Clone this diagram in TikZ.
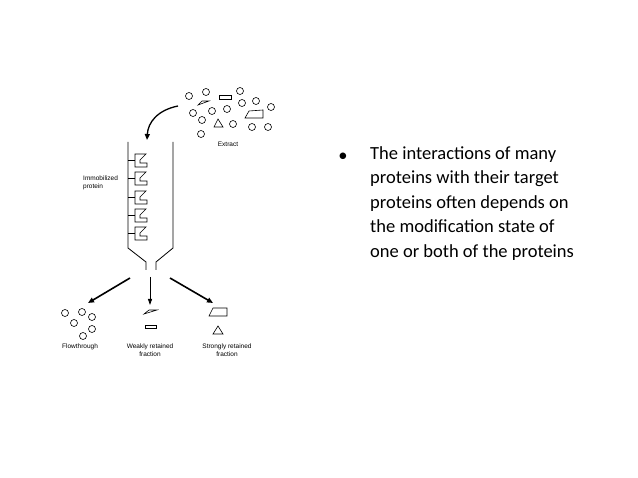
\documentclass[tikz,border=0pt]{standalone}
\usepackage{fontspec}
\setmainfont{Liberation Sans}
\newfontfamily\calib{Carlito}
\usetikzlibrary{arrows.meta}
\begin{document}
\begin{tikzpicture}[x=1pt,y=-1pt,
  part/.style={draw,line width=0.6pt},
  circ/.style={part,circle,inner sep=0pt,minimum size=7pt},
  lbl/.style={font=\fontsize{6.5}{7.5}\selectfont,inner sep=0pt},
  big/.style={-{Triangle[length=6pt,width=5pt]},line width=1.6pt},
  bul/.style={font=\calib\fontsize{18.5}{24.5}\selectfont,anchor=north west,inner sep=0pt,align=left}]
\useasboundingbox (0,0) rectangle (638,478);
% column
\draw[line width=0.8pt] (128,142) -- (128,248) -- (146,262) -- (146,270);
\draw[line width=0.8pt] (173,142) -- (173,248) -- (156,262) -- (156,270);
% ligands
\foreach \y in {160,178,197,215,233}{
  \draw[line width=0.7pt] (128,\y) -- (135,\y);
  \draw[line width=0.7pt] (135,\y-6) -- (146,\y-6) -- (140,\y) -- (140,\y+3) -- (147,\y+3) -- (147,\y+7) -- (135,\y+7) -- cycle;
}
\node[lbl,align=left,anchor=west] (imm) at (83,183) {Immobilized\\protein};
% extract
\foreach \p [count=\i] in {(189,96),(206,92),(240,91),(193,113),(212,111),(227,109),(242,103),(256,101),(271,107),(202,120),(233,124),(252,127),(268,127),(201,134)}
  \node[circ] (e\i) at \p {};
\draw[part] (219,95) rectangle (231,99);
\draw[part] (198,105) -- (202,101) -- (209,101) -- cycle;
\draw[part] (214,127) -- (218,119) -- (223,127) -- cycle;
\draw[part] (245,118) -- (249,111) -- (263,110) -- (263,118) -- cycle;
\node[lbl] (ext) at (228,144) {Extract};
\coordinate (cs) at (178,106);
\coordinate (ce) at (147,140);
\draw[-{Triangle[length=6pt,width=5pt]},line width=1.3pt] (cs) .. controls (158,110) and (148,122) .. (ce);
% bottom arrows
\coordinate (a1) at (130,278); \coordinate (b1) at (88,303);
\coordinate (a2) at (150,277); \coordinate (b2) at (150,305);
\coordinate (a3) at (170,278); \coordinate (b3) at (213,303);
\draw[big] (a1) -- (b1);
\draw[line width=0.9pt,-{Triangle[length=6pt,width=4pt]}] (a2) -- (b2);
\draw[big] (a3) -- (b3);
% flowthrough
\foreach \p [count=\i] in {(65,313),(82,312),(92,317),(74,323),(92,329),(83,336)}
  \node[circ] (f\i) at \p {};
\node[lbl] (fl) at (80,347) {Flowthrough};
% weakly
\draw[part] (144,314) -- (149,310) -- (157,310) -- cycle;
\draw[part] (145,325) rectangle (156,328);
\node[lbl,align=center,anchor=north] (wk) at (150,344) {Weakly retained\\fraction};
% strongly
\draw[part] (209,316) -- (213,308) -- (227,308) -- (227,316) -- cycle;
\draw[part] (213,334) -- (218,326) -- (223,334) -- cycle;
\node[lbl,align=center,anchor=north] (st) at (227,344) {Strongly retained\\fraction};
% bullet
\node[font=\calib\fontsize{18.5}{24.5}\selectfont,inner sep=0pt] (dot) at (343,157) {•};
\node[bul] (txt) at (370,146) {The interactions of many\\proteins with their target\\proteins often depends on\\the modification state of\\one or both of the proteins};
\end{tikzpicture}
\end{document}
